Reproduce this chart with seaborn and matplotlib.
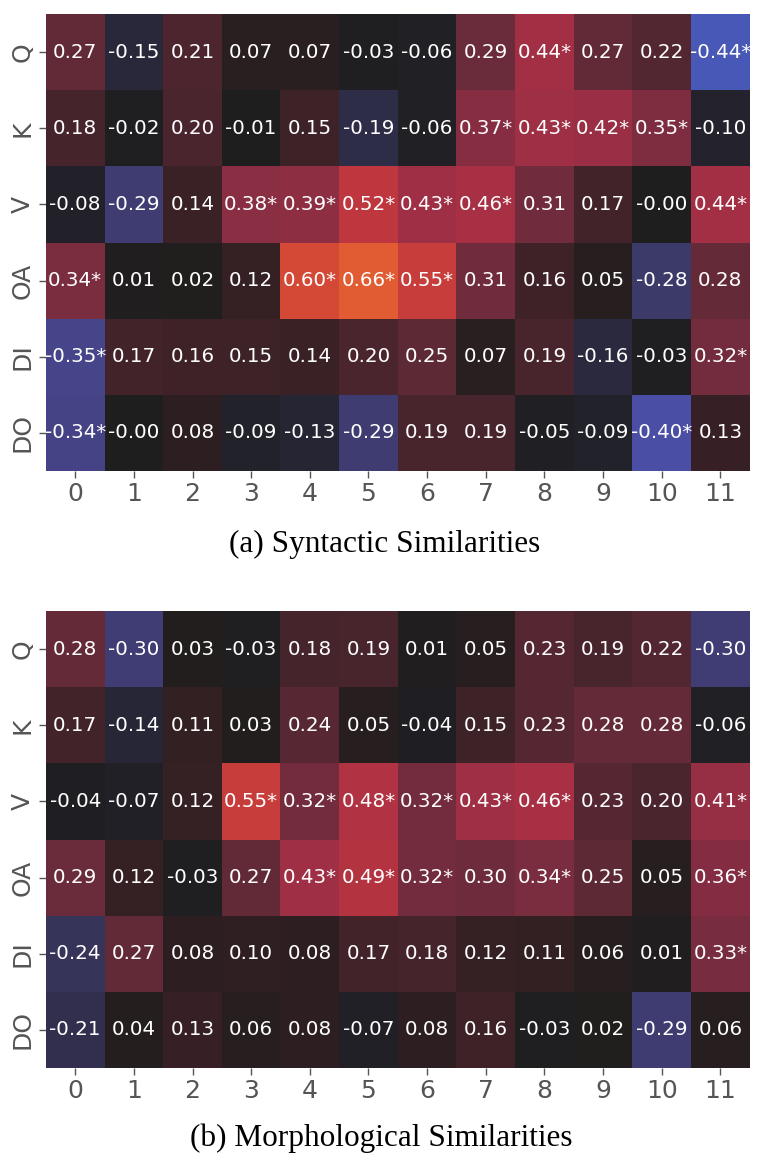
import numpy as np
import pandas as pd
import seaborn as sns
import matplotlib
matplotlib.use('Agg')
import matplotlib.pyplot as plt

sns.set_style('white')
plt.rcParams['font.family'] = ['DejaVu Sans']

rows = ['Q', 'K', 'V', 'OA', 'DI', 'DO']
layers = [str(i) for i in range(12)]

# (a) syntactic similarities
syn = [
    [0.27, -0.15, 0.21, 0.07, 0.07, -0.03, -0.06, 0.29, 0.44, 0.27, 0.22, -0.44],
    [0.18, -0.02, 0.20, -0.01, 0.15, -0.19, -0.06, 0.37, 0.43, 0.42, 0.35, -0.10],
    [-0.08, -0.29, 0.14, 0.38, 0.39, 0.52, 0.43, 0.46, 0.31, 0.17, -0.00, 0.44],
    [0.34, 0.01, 0.02, 0.12, 0.60, 0.66, 0.55, 0.31, 0.16, 0.05, -0.28, 0.28],
    [-0.35, 0.17, 0.16, 0.15, 0.14, 0.20, 0.25, 0.07, 0.19, -0.16, -0.03, 0.32],
    [-0.34, -0.00, 0.08, -0.09, -0.13, -0.29, 0.19, 0.19, -0.05, -0.09, -0.40, 0.13],
]
syn_sig = [
    [0, 0, 0, 0, 0, 0, 0, 0, 1, 0, 0, 1],
    [0, 0, 0, 0, 0, 0, 0, 1, 1, 1, 1, 0],
    [0, 0, 0, 1, 1, 1, 1, 1, 0, 0, 0, 1],
    [1, 0, 0, 0, 1, 1, 1, 0, 0, 0, 0, 0],
    [1, 0, 0, 0, 0, 0, 0, 0, 0, 0, 0, 1],
    [1, 0, 0, 0, 0, 0, 0, 0, 0, 0, 1, 0],
]

# (b) morphological similarities
mor = [
    [0.28, -0.30, 0.03, -0.03, 0.18, 0.19, 0.01, 0.05, 0.23, 0.19, 0.22, -0.30],
    [0.17, -0.14, 0.11, 0.03, 0.24, 0.05, -0.04, 0.15, 0.23, 0.28, 0.28, -0.06],
    [-0.04, -0.07, 0.12, 0.55, 0.32, 0.48, 0.32, 0.43, 0.46, 0.23, 0.20, 0.41],
    [0.29, 0.12, -0.03, 0.27, 0.43, 0.49, 0.32, 0.30, 0.34, 0.25, 0.05, 0.36],
    [-0.24, 0.27, 0.08, 0.10, 0.08, 0.17, 0.18, 0.12, 0.11, 0.06, 0.01, 0.33],
    [-0.21, 0.04, 0.13, 0.06, 0.08, -0.07, 0.08, 0.16, -0.03, 0.02, -0.29, 0.06],
]
mor_sig = [
    [0, 0, 0, 0, 0, 0, 0, 0, 0, 0, 0, 0],
    [0, 0, 0, 0, 0, 0, 0, 0, 0, 0, 0, 0],
    [0, 0, 0, 1, 1, 1, 1, 1, 1, 0, 0, 1],
    [0, 0, 0, 0, 1, 1, 1, 0, 1, 0, 0, 1],
    [0, 0, 0, 0, 0, 0, 0, 0, 0, 0, 0, 1],
    [0, 0, 0, 0, 0, 0, 0, 0, 0, 0, 0, 0],
]

captions = ['(a) Syntactic Similarities', '(b) Morphological Similarities']


def labels(vals, sig):
    out = []
    for vr, sr in zip(vals, sig):
        out.append([('%.2f' % v) + ('*' if s else '') for v, s in zip(vr, sr)])
    return np.array(out)


fig = plt.figure(figsize=(7.65, 11.57), dpi=100)
ax1 = fig.add_axes([0.060, 0.5929, 0.920, 0.395])
ax2 = fig.add_axes([0.060, 0.0769, 0.920, 0.395])

for ax, vals, sig in [(ax1, syn, syn_sig), (ax2, mor, mor_sig)]:
    df = pd.DataFrame(vals, index=rows, columns=layers)
    sns.heatmap(df, ax=ax, cmap='icefire', vmin=-1, vmax=1, cbar=False,
                annot=labels(vals, sig), fmt='',
                annot_kws={'size': 14.3, 'color': 'white'})
    ax.tick_params(axis='both', colors='#555555', labelsize=18,
                   bottom=True, left=True, length=5, width=1, pad=3)
    ax.set_yticklabels(rows, rotation=90, va='center')
    ax.set_xticklabels(layers, rotation=0)
    ax.set_xlabel('')
    ax.set_ylabel('')

fig.text(0.503, 0.529, captions[0], ha='center', va='center', color='black',
         fontsize=22.5, family=['Liberation Serif', 'DejaVu Serif'])
fig.text(0.498, 0.016, captions[1], ha='center', va='center', color='black',
         fontsize=22.5, family=['Liberation Serif', 'DejaVu Serif'])

fig.savefig('out.png', dpi=100)
